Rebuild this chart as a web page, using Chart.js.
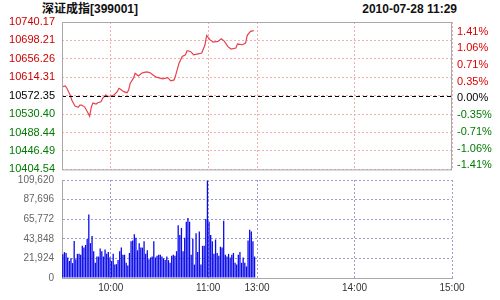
<!DOCTYPE html>
<html>
<head>
<meta charset="utf-8">
<script src="https://cdn.jsdelivr.net/npm/chart.js@4.4.0/dist/chart.umd.min.js"></script>
<style>
body{margin:0;background:#fff;width:500px;height:300px;position:relative;overflow:hidden;font-family:"Liberation Sans",Arial,"Noto Sans CJK SC",sans-serif}
.head{position:absolute;top:2px;font-size:12px;line-height:14px;font-weight:bold;color:#111}
#name{left:42px}
#stamp{right:43px}
#priceChart{position:absolute;left:0;top:0}
#volChart{position:absolute;left:0;top:166px}
</style>
</head>
<body>
<div class="head" id="name">深证成指[399001]</div>
<div class="head" id="stamp">2010-07-28 11:29</div>
<canvas id="priceChart" width="500" height="183"></canvas>
<canvas id="volChart" width="500" height="134"></canvas>
<script>
var prevClose = 10572.35;
var priceTimes = ['09:30','09:32','09:33','09:35','09:36','09:38','09:40','09:41','09:42','09:44',
	'09:46','09:47','09:48','09:49','09:51','09:52','09:54','09:55','09:57','09:58',
	'10:00','10:02','10:04','10:05','10:06','10:08','10:10','10:11','10:12','10:14',
	'10:15','10:17','10:19','10:20','10:22','10:24','10:26','10:28','10:32','10:35',
	'10:37','10:39','10:40','10:42','10:44','10:46','10:47','10:49','10:51','10:53',
	'10:56','10:58','10:59','11:01','11:03','11:06','11:08','11:10','11:12','11:14',
	'11:17','11:18','11:21','11:23','11:24','11:26','11:28'];
var prices = [10592.3,10594.6,10589.3,10574.0,10562.5,10548.9,10545.8,10551.1,10551.1,10546.5,
	10532.8,10525.9,10545.8,10555.6,10553.3,10556.3,10558.6,10566.4,10574.0,10570.1,
	10571.7,10574.0,10581.5,10589.3,10587.0,10581.5,10579.2,10585.4,10600.8,10612.2,
	10623.6,10617.5,10623.6,10625.0,10626.6,10625.0,10619.7,10614.5,10610.6,10613.6,
	10606.0,10608.3,10619.7,10646.5,10661.6,10665.5,10674.7,10673.1,10665.5,10667.1,
	10669.4,10688.4,10709.7,10699.9,10694.6,10696.0,10702.2,10696.0,10684.5,10678.6,
	10680.9,10690.0,10688.4,10692.3,10709.7,10718.9,10720.5];
// one bar per minute from 09:30
var volumes = [26700,29000,28000,23000,19000,22000,16700,41500,21000,27000,
	27000,26000,36000,34000,37000,43700,71000,39000,47000,30000,
	17000,24000,24000,33000,30000,24000,32000,27000,29000,23000,
	19000,27000,15000,15500,20000,30000,34000,26000,26000,17000,
	14000,28000,41000,42000,49000,45000,31000,39000,34000,34000,
	41000,27000,31000,21000,23000,24000,41000,23000,25000,
	26000,26000,24000,22000,20000,24000,20000,17000,25000,26000,
	25000,30000,59000,48000,56000,30000,45000,63000,67000,63000,
	26000,44000,15000,50000,29000,52000,15000,36000,36000,66000,
	108900,63000,48000,41000,27000,43000,28000,25000,35000,34000,
	64000,26000,24000,27000,23000,26000,28000,17000,15000,26000,
	29000,17000,23000,17000,13000,42000,54000,52000,41000,24000];
var priceTicks = [10404.54,10446.49,10488.44,10530.40,10572.35,10614.31,10656.26,10698.21,10740.17];
var pctTicks = [-1.41,-1.06,-0.71,-0.35,0.00,0.35,0.71,1.06,1.41];
var volTicks = [0,21924,43848,65772,87696,109620];
var timeTicks = ['10:00','11:00','13:00','14:00','15:00'];

var fam = '"Liberation Sans", Arial, sans-serif';

function toMin(t){
	var p = t.split(':'), m = parseInt(p[0],10)*60 + parseInt(p[1],10);
	return m <= 690 ? m - 570 : m - 780 + 120;
}
function setTicks(list){
	return function(s){ s.ticks = list.map(function(v){ return {value: v}; }); };
}
function upDown(up, zero, down, ref){
	return function(c){
		var v = c.tick.value;
		if(Math.abs(v-ref) < 0.001) return zero;
		return v > ref ? up : down;
	};
}

var frame = {
	id: 'frame',
	afterDraw: function(chart, args, opts){
		var a = chart.chartArea, c = chart.ctx;
		c.save();
		if(opts.zero){
			var y = Math.round(chart.scales.y.getPixelForValue(prevClose)) + 0.5;
			c.strokeStyle = '#000';
			c.setLineDash([4,3]);
			c.beginPath(); c.moveTo(a.left, y); c.lineTo(a.right, y); c.stroke();
			c.setLineDash([]);
		}
		if(opts.box){
			c.strokeStyle = '#a8a8a8';
			c.lineWidth = 1;
			c.strokeRect(a.left+0.5, a.top+0.5, a.right-a.left-1, a.bottom-a.top);
		}
		c.restore();
	}
};

Chart.defaults.font.family = fam;

new Chart(document.getElementById('priceChart'), {
	type: 'line',
	data: {
		datasets: [{
			data: priceTimes.map(function(t,i){ return {x: toMin(t), y: prices[i]}; }),
			borderColor: '#e5434c',
			borderWidth: 1.2,
			pointRadius: 0,
			tension: 0,
			yAxisID: 'y'
		}]
	},
	options: {
		responsive: false, animation: false, events: [],
		layout: {padding: {top: 22, bottom: 6}},
		plugins: {legend: {display: false}, tooltip: {enabled: false}, frame: {zero: true, box: true}},
		scales: {
			x: {
				type: 'linear', min: 0, max: 240,
				afterBuildTicks: setTicks(timeTicks.map(toMin)),
				ticks: {display: false},
				grid: {color: '#f2adad', drawTicks: false},
				border: {display: false, dash: [2,2]},
				afterFit: function(s){ s.height = 0; }
			},
			y: {
				position: 'left', min: 10404.54, max: 10740.17,
				afterBuildTicks: setTicks(priceTicks),
				ticks: {
					font: {size: 11}, padding: 7,
					color: upDown('#cc0000', '#000000', '#007a00', prevClose),
					callback: function(v){ return v.toFixed(2); }
				},
				grid: {color: '#f2adad', drawTicks: false},
				border: {display: false, dash: [2,2]},
				afterFit: function(s){ s.width = 62; }
			},
			y2: {
				position: 'right', min: -1.50, max: 1.61,
				afterBuildTicks: setTicks(pctTicks),
				ticks: {
					font: {size: 11}, padding: 5,
					color: upDown('#dd0000', '#000000', '#007a00', 0),
					callback: function(v){ return v.toFixed(2) + '%'; }
				},
				grid: {display: false, drawTicks: false},
				border: {display: false},
				afterFit: function(s){ s.width = 48; }
			}
		}
	},
	plugins: [frame]
});

new Chart(document.getElementById('volChart'), {
	type: 'bar',
	data: {
		datasets: [{
			data: volumes.map(function(v,i){ return {x: i + 0.5, y: v}; }),
			backgroundColor: '#0b0bea',
			barPercentage: 0.8,
			categoryPercentage: 1
		}]
	},
	options: {
		responsive: false, animation: false, events: [],
		layout: {padding: {top: 10, right: 48}},
		plugins: {legend: {display: false}, tooltip: {enabled: false}},
		scales: {
			x: {
				type: 'linear', min: 0, max: 240, offset: false,
				afterBuildTicks: setTicks(timeTicks.map(toMin)),
				ticks: {
					font: {size: 10}, color: '#333', padding: 4, autoSkip: false, maxRotation: 0,
					callback: function(v){ var i = timeTicks.map(toMin).indexOf(v); return i < 0 ? '' : timeTicks[i]; }
				},
				grid: {color: '#9c9cd2', drawTicks: false, offset: false},
				border: {color: '#a8a8a8', dash: [2,2]},
				afterFit: function(s){ s.height = 22; }
			},
			y: {
				min: 0, max: 109620,
				afterBuildTicks: setTicks(volTicks),
				ticks: {
					font: {size: 10}, color: '#666', padding: 8,
					callback: function(v){ return v.toLocaleString('en-US'); }
				},
				grid: {color: '#9c9cd2', drawTicks: false},
				border: {color: '#a8a8a8', dash: [2,2]},
				afterFit: function(s){ s.width = 62; }
			}
		}
	}
});
</script>
</body>
</html>
